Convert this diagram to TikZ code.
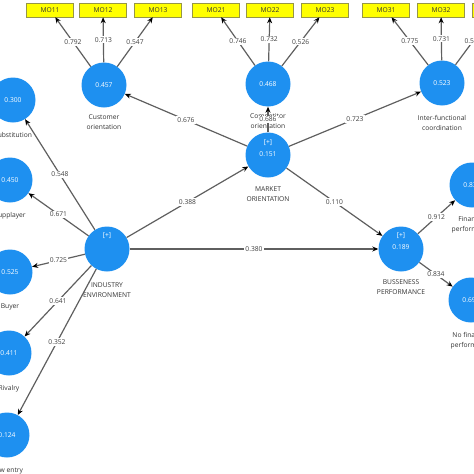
\documentclass[tikz,border=0pt]{standalone}
\usepackage{fontspec}
\setmainfont{Open Sans}
\usetikzlibrary{arrows.meta}
\definecolor{plsblue}{RGB}{30,144,240}
\definecolor{boxyellow}{RGB}{255,255,0}
\definecolor{boxborder}{RGB}{150,150,70}
\definecolor{edgegrey}{RGB}{95,95,95}
\newcommand{\smallfnt}{\fontsize{6.7}{10}\selectfont}
\begin{document}
\begin{tikzpicture}[x=1pt,y=-1pt,
  construct/.style={circle,fill=plsblue,minimum size=45pt,inner sep=0pt,text=white,font=\smallfnt,align=center},
  indicator/.style={rectangle,fill=boxyellow,draw=boxborder,line width=0.5pt,minimum width=47pt,minimum height=14pt,inner sep=0pt,font=\smallfnt,text=black!80},
  conlabel/.style={font=\smallfnt,text=black!80,align=center,inner sep=0pt,label distance=9pt},
  valtext/.style={font=\smallfnt,text=white,inner sep=0pt},
  link/.style={draw=edgegrey,line width=1.2pt,-{Stealth[length=6pt,width=5pt,color=black]}},
  coef/.style={fill=white,inner sep=1.2pt,font=\smallfnt,text=black!75,midway}
]
\useasboundingbox (0,0) rectangle (474,474);
\clip (0,0) rectangle (474,474);

% indicators
\node[indicator] (MO11) at (50,10) {MO11};
\node[indicator] (MO12) at (103,10) {MO12};
\node[indicator] (MO13) at (158,10) {MO13};
\node[indicator] (MO21) at (216,10) {MO21};
\node[indicator] (MO22) at (270,10) {MO22};
\node[indicator] (MO23) at (325,10) {MO23};
\node[indicator] (MO31) at (386,10) {MO31};
\node[indicator] (MO32) at (441,10) {MO32};
\node[indicator] (MO33) at (496,10) {MO33};

% constructs
\node[construct,label={[conlabel,label distance=7pt]below:{Customer\\orientation}}] (CO) at (104,85) {0.457};
\node[construct,label={[conlabel,label distance=7pt]below:{Competitor\\orientation}}] (CP) at (268,84) {0.468};
\node[construct,label={[conlabel,label distance=9pt]below:{Inter-functional\\coordination}}] (IC) at (442,83) {0.523};
\node[construct,label={[conlabel,label distance=9pt]below:{MARKET\\ORIENTATION}},
      label={[valtext,yshift=12pt]center:{[+]}},label={[valtext,yshift=1pt]center:{0.151}}] (MO) at (268,155) {};
\node[construct,label={[conlabel,label distance=11pt]below:{INDUSTRY\\ENVIRONMENT}},
      label={[valtext,yshift=13pt]center:{[+]}}] (IE) at (107,249) {};
\node[construct,label={[conlabel,label distance=8pt]below:{BUSSENESS\\PERFORMANCE}},
      label={[valtext,yshift=13pt]center:{[+]}},label={[valtext,yshift=2pt]center:{0.189}}] (BP) at (401,249) {};
\node[construct,label={[conlabel]below:{Financial\\performance}}] (FP) at (472,185) {0.832};
\node[construct,label={[conlabel]below:{No financial\\performance}}] (NF) at (471,300) {0.696};
\node[construct,label={[conlabel,label distance=10pt]below:{Substitution}}] (SU) at (13,100) {0.300};
\node[construct,label={[conlabel,label distance=10pt]below:{Supplayer}}] (SP) at (10,180) {0.450};
\node[construct,label={[conlabel,label distance=9pt]below:{Buyer}}] (BU) at (10,272) {0.525};
\node[construct,label={[conlabel,label distance=10pt]below:{Rivalry}}] (RI) at (9,353) {0.411};
\node[construct,label={[conlabel,label distance=10pt]below:{New entry}}] (NE) at (7,435) {0.124};

% outer loadings
\draw[link] (CO) -- node[coef]{0.792} (MO11);
\draw[link] (CO) -- node[coef]{0.713} (MO12);
\draw[link] (CO) -- node[coef]{0.547} (MO13);
\draw[link] (CP) -- node[coef]{0.746} (MO21);
\draw[link] (CP) -- node[coef]{0.732} (MO22);
\draw[link] (CP) -- node[coef]{0.526} (MO23);
\draw[link] (IC) -- node[coef]{0.775} (MO31);
\draw[link] (IC) -- node[coef]{0.731} (MO32);
\draw[link] (IC) -- node[coef]{0.577} (MO33);

% higher-order paths
\draw[link] (MO) -- node[coef]{0.676} (CO);
\draw[link] (MO) -- node[coef]{0.686} (CP);
\draw[link] (MO) -- node[coef]{0.723} (IC);
\draw[link] (IE) -- node[coef]{0.388} (MO);
\draw[link] (IE) -- node[coef]{0.380} (BP);
\draw[link] (MO) -- node[coef]{0.110} (BP);
\draw[link] (BP) -- node[coef]{0.912} (FP);
\draw[link] (BP) -- node[coef]{0.834} (NF);
\draw[link] (IE) -- node[coef]{0.548} (SU);
\draw[link] (IE) -- node[coef]{0.671} (SP);
\draw[link] (IE) -- node[coef]{0.725} (BU);
\draw[link] (IE) -- node[coef]{0.641} (RI);
\draw[link] (IE) -- node[coef]{0.352} (NE);
\end{tikzpicture}
\end{document}
